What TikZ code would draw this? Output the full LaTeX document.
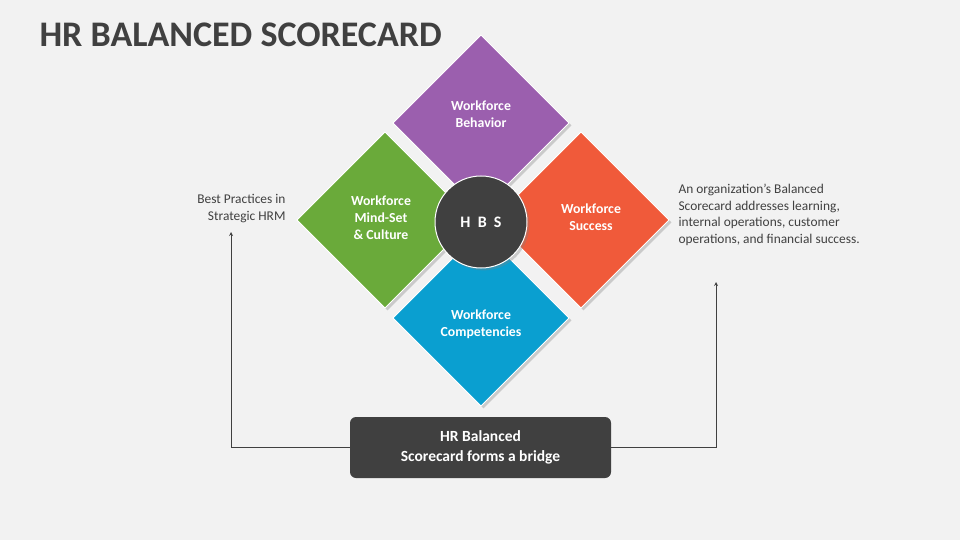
\documentclass[tikz,border=0pt]{standalone}
\usepackage{fontspec}
\setmainfont{Carlito}
\usetikzlibrary{shadows}
\definecolor{bgcol}{HTML}{F2F2F2}
\definecolor{purp}{HTML}{9B5FAE}
\definecolor{grn}{HTML}{6AAA3A}
\definecolor{orng}{HTML}{F05A3A}
\definecolor{blu}{HTML}{0A9FD0}
\definecolor{darkc}{HTML}{404040}
\tikzset{
  tile/.style={draw=white,line width=1pt,drop shadow={opacity=0.35}},
  tiletext/.style={text=white,align=center,font=\fontsize{13.8}{17}\selectfont\bfseries},
  note/.style={text=darkc,font=\fontsize{13.4}{16.5}\selectfont},
}
\begin{document}
\begin{tikzpicture}[x=1pt,y=-1pt]
        \fill[bgcol] (0,0) rectangle (960,540);
        \node[anchor=west,text=darkc,font=\fontsize{36}{38}\selectfont\bfseries] (title) at (36,35) {HR BALANCED SCORECARD};

        % diamonds
        \fill[grn,tile] (385,132) -- (473,220) -- (385,308) -- (297,220) -- cycle;
        \fill[orng,tile] (581,132) -- (669,220) -- (581,308) -- (493,220) -- cycle;
        \fill[blu,tile] (481,230) -- (569,318) -- (481,406) -- (393,318) -- cycle;
        \fill[purp,tile] (481,35) -- (569,123) -- (481,211) -- (393,123) -- cycle;
        \node[circle,fill=darkc,minimum size=92pt,draw=white,line width=1pt,drop shadow={opacity=0.35},text=white,font=\fontsize{16}{18}\selectfont\bfseries] (hbs) at (481,222) {H\hspace{0.45em}B\hspace{0.45em}S};

        \node[tiletext] (behavior) at (481,114) {Workforce\\Behavior};
        \node[tiletext] (mindset) at (381,218) {Workforce\\Mind-Set\\\& Culture};
        \node[tiletext] (success) at (591,217) {Workforce\\Success};
        \node[tiletext] (comp) at (481,324) {Workforce\\Competencies};

        % notes
        \node[note,align=right,anchor=north east] (best) at (289,191) {Best Practices in\\Strategic HRM};
        \node[note,align=left,anchor=north west] (org) at (675,181) {An organization’s Balanced\\Scorecard addresses learning,\\internal operations, customer\\operations, and financial success.};

        \node[rounded corners=6pt,fill=darkc,minimum width=261pt,minimum height=61pt,text=white,align=center,font=\fontsize{15.5}{20}\selectfont\bfseries] (bridge) at (480.5,447.5) {HR Balanced\\Scorecard forms a bridge};

        \coordinate (lup) at (231,232);
        \coordinate (rup) at (716,282);
        \draw[->,>=stealth,darkc,line width=0.8pt] (bridge.west) -| (lup);
        \draw[->,>=stealth,darkc,line width=0.8pt] (bridge.east) -| (rup);
\end{tikzpicture}
\end{document}
